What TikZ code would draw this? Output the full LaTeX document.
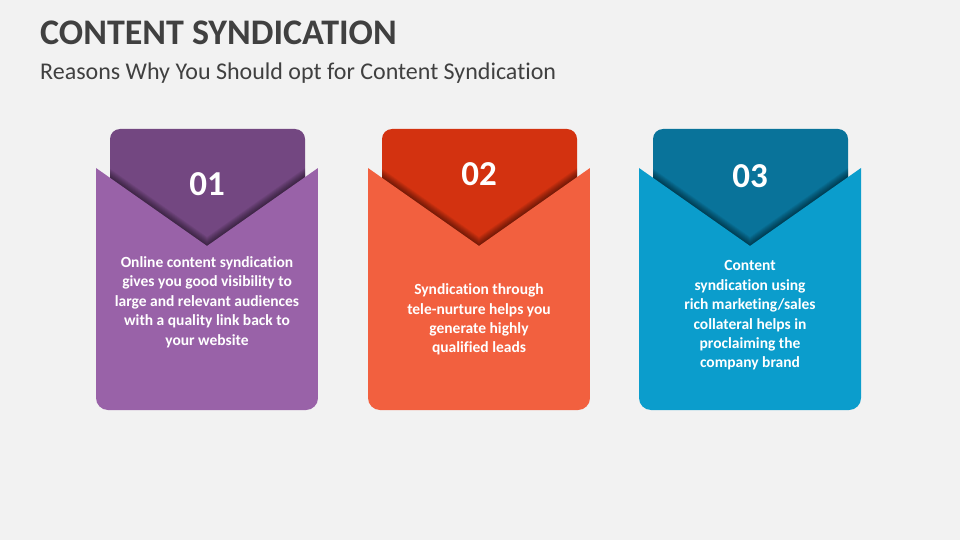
\documentclass[tikz,border=0pt]{standalone}
\usepackage{fontspec}
\setmainfont[Ligatures=NoCommon]{Carlito}
\usepackage{tikz}
\usetikzlibrary{positioning}

\definecolor{bgray}{HTML}{F2F2F2}
\definecolor{tgray}{HTML}{404040}
\definecolor{backA}{HTML}{734781}
\definecolor{frontA}{HTML}{9962A8}
\definecolor{backB}{HTML}{D33210}
\definecolor{frontB}{HTML}{F2603F}
\definecolor{backC}{HTML}{09739A}
\definecolor{frontC}{HTML}{0B9DCC}

\begin{document}
\begin{tikzpicture}[x=1pt,y=-1pt,
    numtext/.style={text=white,font=\fontsize{35}{40}\selectfont\bfseries},
    bodytext/.style={text=white,align=center,font=\fontsize{15.5}{19.4}\selectfont\bfseries},
    shade/.style={black,opacity=0.06}]
    \fill[bgray] (0,0) rectangle (960,540);
    \useasboundingbox (0,0) rectangle (960,540);
    \node[anchor=base west,inner sep=0,text=tgray,font=\fontsize{36}{40}\selectfont\bfseries] (title) at (40,45) {CONTENT SYNDICATION};
    \node[anchor=base west,inner sep=0,text=tgray,font=\fontsize{24}{28}\selectfont] (subtitle) at (40,80) {Reasons Why You Should opt for Content Syndication};
    % three cards
    \foreach \i/\x/\c/\ny/\ty/\txt in {%
        1/0/A/184/302/{Online content syndication\\gives you good visibility to\\large and relevant audiences\\with a quality link back to\\your website},
        2/272/B/174/319.5/{Syndication through\\tele-nurture helps you\\generate highly\\qualified leads},
        3/543/C/176/315.5/{Content\\syndication using\\rich marketing/sales\\collateral helps in\\proclaiming the\\company brand}}{
        \begin{scope}[xshift=\x]
            \fill[back\c,rounded corners=10] (110,129) rectangle (305,300);
            \begin{scope}
                \clip (110,129) rectangle (305,300);
                \foreach \s in {1,...,9}
                    \fill[shade] (96,168-\s) -- (207,246-\s) -- (318,168-\s) -- (318,300) -- (96,300) -- cycle;
            \end{scope}
            \begin{scope}
                \clip[rounded corners=12] (96,100) rectangle (318,410);
                \fill[front\c] (96,168) -- (207,246) -- (318,168) -- (318,410) -- (96,410) -- cycle;
            \end{scope}
            \node[numtext] (num\i) at (207,\ny) {0\i};
            \node[bodytext] (txt\i) at (207,\ty) {\txt};
        \end{scope}
    }
\end{tikzpicture}
\end{document}
